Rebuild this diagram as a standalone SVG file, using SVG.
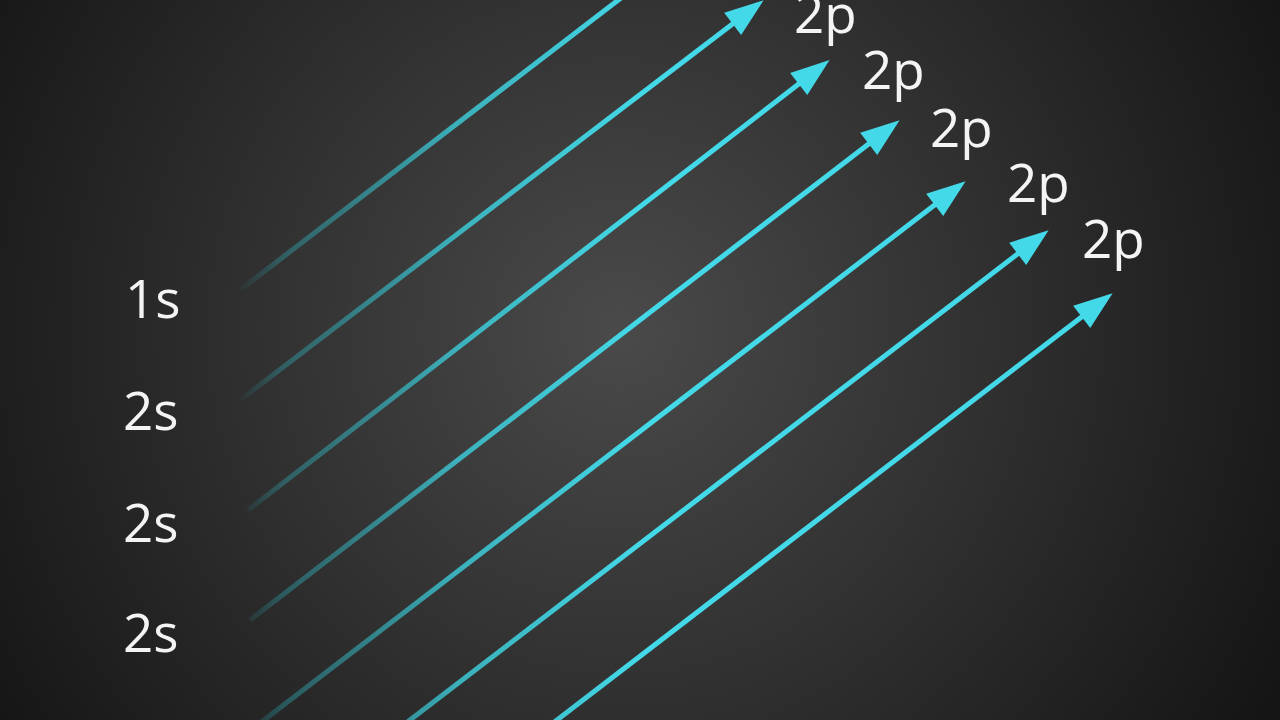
<svg xmlns="http://www.w3.org/2000/svg" width="1280" height="720" viewBox="0 0 1280 720">
<defs>
<radialGradient id="bg" cx="620" cy="330" r="760" gradientUnits="userSpaceOnUse">
<stop offset="0" stop-color="#4a4a4a"/>
<stop offset="0.45" stop-color="#323232"/>
<stop offset="1" stop-color="#141414"/>
</radialGradient>
<linearGradient id="fade" gradientUnits="userSpaceOnUse" x1="235" y1="0" x2="640" y2="0">
<stop offset="0" stop-color="#2a9aa5" stop-opacity="0"/>
<stop offset="0.12" stop-color="#2fa4ae" stop-opacity="0.4"/>
<stop offset="0.55" stop-color="#3cc6d3" stop-opacity="0.85"/>
<stop offset="1" stop-color="#44d9e8" stop-opacity="1"/>
</linearGradient>
<marker id="head" markerUnits="userSpaceOnUse" markerWidth="80" markerHeight="80" refX="0" refY="0" orient="auto" overflow="visible">
<path d="M26,0 L-13,-14 L-13,14 Z" fill="#44d9e8"/>
</marker>
<style>
.ray{stroke:url(#fade);stroke-width:5;fill:none;stroke-linecap:butt;marker-end:url(#head)}
.lbl{font-family:"Open Sans","DejaVu Sans",sans-serif;font-size:53px;fill:#f4f4f4}
</style>
</defs>
<rect width="1280" height="720" fill="url(#bg)"/>
<g id="connectors">
<line class="ray" x1="240" y1="290" x2="677" y2="-45"/>
<line class="ray" x1="240" y1="400" x2="743" y2="16"/>
<line class="ray" x1="248" y1="510" x2="809" y2="76"/>
<line class="ray" x1="250" y1="620" x2="879" y2="136"/>
<line class="ray" x1="251" y1="730" x2="945" y2="197"/>
<line class="ray" x1="397" y1="730" x2="1028" y2="246"/>
<line class="ray" x1="544" y1="730" x2="1092" y2="309"/>
</g>
<g id="label-1s"><text class="lbl" x="125" y="318">1s</text></g>
<g id="label-2s-a"><text class="lbl" x="123" y="430">2s</text></g>
<g id="label-2s-b"><text class="lbl" x="123" y="542">2s</text></g>
<g id="label-2s-c"><text class="lbl" x="123" y="652">2s</text></g>
<g id="label-2p-a"><text class="lbl" x="794" y="33">2p</text></g>
<g id="label-2p-b"><text class="lbl" x="862" y="89">2p</text></g>
<g id="label-2p-c"><text class="lbl" x="930" y="147">2p</text></g>
<g id="label-2p-d"><text class="lbl" x="1007" y="202">2p</text></g>
<g id="label-2p-e"><text class="lbl" x="1082" y="258">2p</text></g>
</svg>
